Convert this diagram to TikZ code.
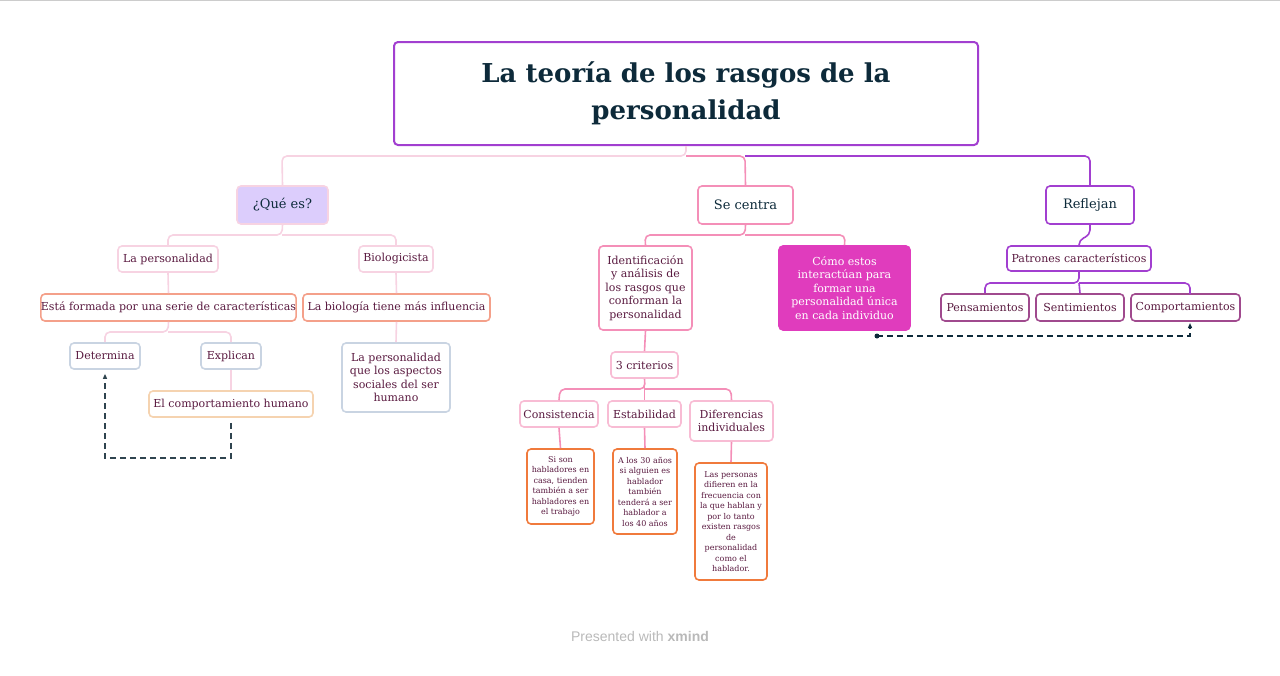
\documentclass[tikz,border=0pt]{standalone}
\usepackage{fontspec}
\setmainfont{DejaVu Serif}
\setsansfont{Liberation Sans}
\usetikzlibrary{arrows.meta}
\definecolor{txt}{HTML}{5A1A40}
\definecolor{navy}{HTML}{0D2A3A}
\definecolor{purp}{HTML}{A23FD0}
\definecolor{pink}{HTML}{F48FB8}
\definecolor{lpink}{HTML}{F7D3E2}
\definecolor{salmon}{HTML}{F4A08A}
\definecolor{bluegray}{HTML}{C9D4E2}
\definecolor{peach}{HTML}{F5D3B0}
\definecolor{orng}{HTML}{F07A3C}
\definecolor{mag}{HTML}{E03CBD}
\definecolor{lav}{HTML}{DCCDFC}
\definecolor{mauve}{HTML}{A04A8E}
\begin{document}
\begin{tikzpicture}[x=1pt,y=-1pt,
 box/.style={draw, line width=1.6pt, rounded corners=4pt, fill=white, text=txt, align=center, inner sep=0pt, font=\fontsize{11}{13.5}\selectfont},
 small/.style={font=\fontsize{8}{10.5}\selectfont},
 ln/.style={line width=1.6pt, rounded corners=5pt},
 dsh/.style={line width=1.3pt, dashed, dash pattern=on 6pt off 4pt}]
\useasboundingbox (0,0) rectangle (1280,675);
\draw[gray!40] (0,0.5)--(1280,0.5);
% title
\node[box, draw=purp, line width=2pt, minimum width=584, minimum height=103, text=navy, font=\fontsize{26}{37}\selectfont\bfseries] (title) at (686,93.5) {La teoría de los rasgos de la\\personalidad};
% level 1
\node[box, draw=lpink, fill=lav, minimum width=91, minimum height=38, text=navy, font=\fontsize{13}{15}\selectfont] (que) at (282.5,205) {¿Qué es?};
\node[box, draw=pink, minimum width=95, minimum height=38, text=navy, font=\fontsize{13}{15}\selectfont] (centra) at (745.5,205) {Se centra};
\node[box, draw=purp, minimum width=88, minimum height=38, text=navy, font=\fontsize{13}{15}\selectfont] (refl) at (1090,205) {Reflejan};
\draw[ln, lpink] (title.south) -- (686,156) -- (282,156) -- (que.north);
\draw[ln, pink] (686,156) -- (745,156) -- (centra.north);
\draw[ln, purp] (745,156) -- (1090,156) -- (refl.north);
% que es
\node[box, draw=lpink, minimum width=100, minimum height=26] (lap) at (168,259) {La personalidad};
\node[box, draw=lpink, minimum width=74, minimum height=26] (bio) at (396,259) {Biologicista};
\draw[ln, lpink] (que.south) -- (282,235) -- (168,235) -- (lap.north);
\draw[ln, lpink] (282,235) -- (396,235) -- (bio.north);
\node[box, draw=salmon, minimum width=255, minimum height=27] (esta) at (168.5,307.5) {Está formada por una serie de características};
\node[box, draw=salmon, minimum width=187, minimum height=27] (biol) at (396.5,307.5) {La biología tiene más influencia};
\draw[ln, lpink] (lap.south) -- (esta.north);
\draw[ln, lpink] (bio.south) -- (biol.north);
\node[box, draw=bluegray, minimum width=70, minimum height=26] (det) at (105,356) {Determina};
\node[box, draw=bluegray, minimum width=60, minimum height=26] (exp) at (231,356) {Explican};
\draw[ln, lpink] (esta.south) -- (168,332) -- (105,332) -- (det.north);
\draw[ln, lpink] (168,332) -- (231,332) -- (exp.north);
\node[box, draw=peach, minimum width=164, minimum height=26] (comp) at (231,404) {El comportamiento humano};
\draw[ln, lpink] (exp.south) -- (comp.north);
\node[box, draw=bluegray, minimum width=108, minimum height=69] (soc) at (396,377.5) {La personalidad\\que los aspectos\\sociales del ser\\humano};
\draw[ln, lpink] (biol.south) -- (soc.north);
\coordinate (d1) at (231,458);
\draw[dsh, navy!70!gray, -{Triangle[length=5pt,width=4pt]}] ([yshift=-5pt]comp.south) -- (d1) -- (105,458) -- ([yshift=-4pt]det.south);
% se centra
\node[box, draw=pink, minimum width=93, minimum height=84] (ident) at (645.5,288) {Identificación\\y análisis de\\los rasgos que\\conforman la\\personalidad};
\node[box, draw=mag, fill=mag, text=white, minimum width=131, minimum height=84] (como) at (844.5,288) {Cómo estos\\interactúan para\\formar una\\personalidad única\\en cada individuo};
\draw[ln, pink] (centra.south) -- (745,235) -- (645,235) -- (ident.north);
\draw[ln, pink] (745,235) -- (845,235) -- (como.north);
\node[box, draw=pink!60, minimum width=67, minimum height=26] (crit) at (644.5,365) {3 criterios};
\draw[ln, pink] (ident.south) -- (crit.north);
\node[box, draw=pink!60, minimum width=78, minimum height=26] (cons) at (559,414) {Consistencia};
\node[box, draw=pink!60, minimum width=73, minimum height=26] (estab) at (644.5,414) {Estabilidad};
\node[box, draw=pink!60, minimum width=83, minimum height=40] (dif) at (731.5,421) {Diferencias\\individuales};
\draw[ln, pink] (crit.south) -- (645,389) -- (560,389) -- (cons.north);
\draw[ln, pink] (crit.south) -- (estab.north);
\draw[ln, pink] (645,389) -- (731,389) -- (dif.north);
\node[box, small, draw=orng, minimum width=67, minimum height=75] (si) at (560.5,486.5) {Si son\\habladores en\\casa, tienden\\también a ser\\habladores en\\el trabajo};
\node[box, small, draw=orng, minimum width=64, minimum height=85] (a30) at (645,491.5) {A los 30 años\\si alguien es\\hablador\\también\\tenderá a ser\\hablador a\\los 40 años};
\node[box, small, draw=orng, minimum width=72, minimum height=117] (las) at (731,521.5) {Las personas\\difieren en la\\frecuencia con\\la que hablan y\\por lo tanto\\existen rasgos\\de\\personalidad\\como el\\hablador.};
\draw[ln, pink] (cons.south) -- (si.north);
\draw[ln, pink] (estab.south) -- (a30.north);
\draw[ln, pink] (dif.south) -- (las.north);
% reflejan
\node[box, draw=purp, minimum width=144, minimum height=25] (pat) at (1079,258.5) {Patrones característicos};
\draw[ln, purp] (refl.south) -- (1090,235) -- (1079,240) -- (pat.north);
\node[box, draw=mauve, minimum width=88, minimum height=27] (pen) at (985,307.5) {Pensamientos};
\node[box, draw=mauve, minimum width=88, minimum height=27] (sen) at (1080,307.5) {Sentimientos};
\node[box, draw=mauve, minimum width=109, minimum height=27] (cmp) at (1185.5,307.5) {Comportamientos};
\draw[ln, purp] (pat.south) -- (1079,283) -- (985,283) -- (pen.north);
\draw[ln, purp] (1079,283) -- (sen.north);
\draw[ln, purp] (1079,283) -- (1190,283) -- (1190,294);
\coordinate (dot) at (877,336);
\coordinate (arr) at (1190,323);
\fill[navy] (dot) circle (2.5pt);
\draw[dsh, navy, -{Triangle[length=5pt,width=4pt]}] (dot) -- (1190,336) -- (arr);
\node[font=\sffamily\fontsize{14}{16}\selectfont, text=gray!55] (pw) at (640,636) {Presented with \textbf{xmind}};
\end{tikzpicture}
\end{document}
